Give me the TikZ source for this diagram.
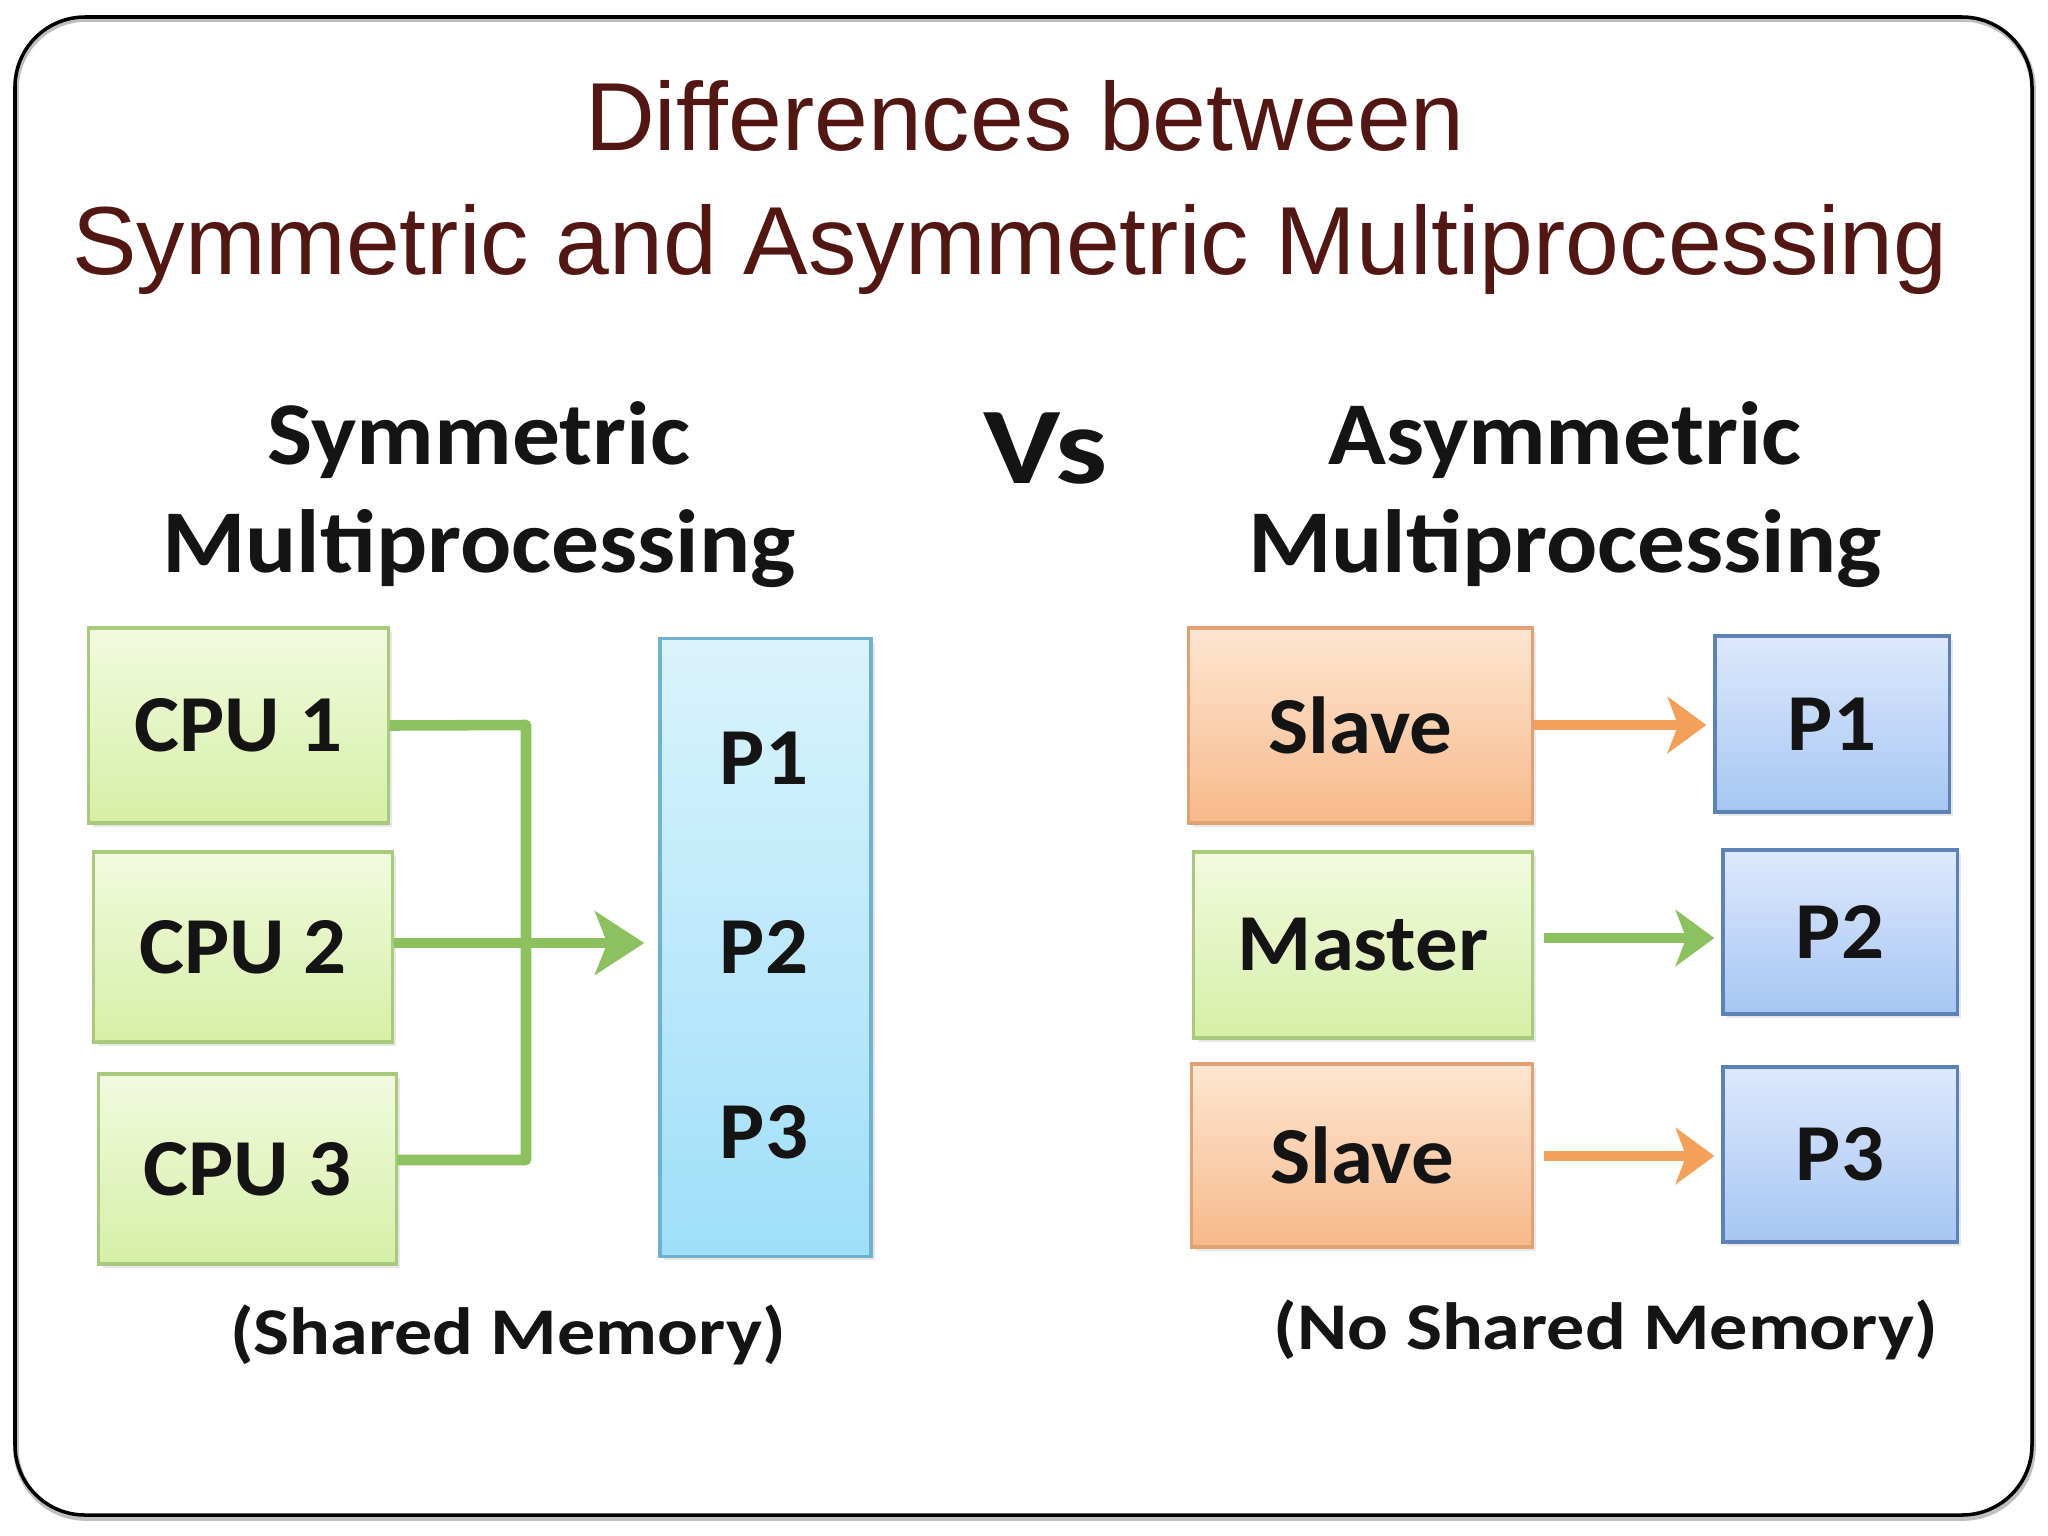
\documentclass[tikz,border=0pt]{standalone}
\usepackage{fontspec}
\setmainfont{Liberation Sans}
\newfontfamily\calib{Carlito}
\usetikzlibrary{arrows.meta,shadows}
\definecolor{titlecol}{HTML}{521713}
\definecolor{gtop}{HTML}{F2FADF}
\definecolor{gbot}{HTML}{D6EFA6}
\definecolor{gborder}{HTML}{A9C97C}
\definecolor{gline}{HTML}{8DC15F}
\definecolor{btop}{HTML}{DAF3FD}
\definecolor{bbot}{HTML}{9FDFF8}
\definecolor{bborder}{HTML}{6FB2D0}
\definecolor{otop}{HTML}{FDE6D2}
\definecolor{obot}{HTML}{F7B98A}
\definecolor{oborder}{HTML}{E0A274}
\definecolor{oline}{HTML}{F2A05A}
\definecolor{ptop}{HTML}{DDE9FC}
\definecolor{pbot}{HTML}{A6C6F3}
\definecolor{pborder}{HTML}{5C82B8}
\definecolor{txt}{HTML}{141414}
\newcommand{\hs}[2]{\scalebox{#1}[1]{#2}}
\begin{document}
\begin{tikzpicture}[x=0.01cm,y=-0.01cm,
  titletext/.style={anchor=base,inner sep=0pt,text=titlecol,font=\fontsize{27.5}{30}\selectfont},
  headtext/.style={anchor=base,inner sep=0pt,text=txt,font=\calib\bfseries\fontsize{25.5}{28}\selectfont},
  vstext/.style={anchor=base,inner sep=0pt,text=txt,font=\calib\bfseries\fontsize{31}{34}\selectfont},
  captext/.style={anchor=base,inner sep=0pt,text=txt,font=\calib\bfseries\fontsize{19}{22}\selectfont},
  boxtext/.style={text=txt,font=\calib\bfseries\fontsize{23}{26}\selectfont},
  shadowed/.style={drop shadow={shadow xshift=1.2pt,shadow yshift=-1.2pt,opacity=0.18}},
  greenbox/.style={boxtext,shadowed,draw=gborder,line width=0.9pt,top color=gtop,bottom color=gbot},
  orangebox/.style={boxtext,shadowed,draw=oborder,line width=0.9pt,top color=otop,bottom color=obot},
  pbox/.style={boxtext,shadowed,draw=pborder,line width=0.9pt,top color=ptop,bottom color=pbot},
  membox/.style={shadowed,draw=bborder,line width=0.9pt,top color=btop,bottom color=bbot},
  gconn/.style={draw=gline,line width=3pt},
  garrow/.style={gconn,-{Stealth[length=14pt,width=18pt,inset=3.5pt]}},
  oarrow/.style={draw=oline,line width=2.8pt,-{Stealth[length=11pt,width=16pt,inset=3pt]}}
]
\useasboundingbox (0,0) rectangle (2048,1536);
\fill[white] (0,0) rectangle (2048,1536);
% frame
\draw[black!25,line width=1.6pt,rounded corners=0.7cm] (16,19) rectangle (2033,1518);
\draw[black,line width=1pt,rounded corners=0.7cm] (15,17) rectangle (2032,1515);

% title
\node[titletext] (t1) at (1025,150) {Differences between};
\node[titletext] (t2) at (1010,274) {Symmetric and Asymmetric Multiprocessing};

% headings
\node[headtext] (hl1) at (479,464) {\hs{1.065}{Symmetric}};
\node[headtext] (hl2) at (479,572) {\hs{1.065}{Multiprocessing}};
\node[vstext] (vs) at (1046,483) {\hs{1.2}{Vs}};
\node[headtext] (hr1) at (1565,464) {\hs{1.065}{Asymmetric}};
\node[headtext] (hr2) at (1565,572) {\hs{1.065}{Multiprocessing}};

% left side
\node[greenbox,minimum width=2.99cm,minimum height=1.95cm] (C1) at (238.5,725.5) {\hs{1.05}{CPU 1}};
\node[greenbox,minimum width=2.98cm,minimum height=1.90cm] (C2) at (243,947) {\hs{1.05}{CPU 2}};
\node[greenbox,minimum width=2.97cm,minimum height=1.90cm] (C3) at (247.5,1169) {\hs{1.05}{CPU 3}};
\node[membox,minimum width=2.11cm,minimum height=6.17cm] (Mem) at (765.5,947.5) {};
\node[boxtext] (mp1) at (764,758) {\hs{1.05}{P1}};
\node[boxtext] (mp2) at (764,947) {\hs{1.05}{P2}};
\node[boxtext] (mp3) at (764,1132) {\hs{1.05}{P3}};

\coordinate (e1) at (526,725);
\coordinate (e3) at (526,1160);
\draw[gconn,line join=round] (C1.east) -- (e1) -- (e3) -- (C3.east |- e3);
\draw[garrow,shorten >=4pt] (C2.east |- 0,943) -- (Mem.west |- 0,943);

% right side
\node[orangebox,minimum width=3.43cm,minimum height=1.95cm] (S1) at (1360.5,725.5) {\hs{1.05}{Slave}};
\node[greenbox,minimum width=3.38cm,minimum height=1.86cm] (M) at (1363,945) {\hs{1.05}{Master}};
\node[orangebox,minimum width=3.40cm,minimum height=1.83cm] (S2) at (1362,1155.5) {\hs{1.05}{Slave}};
\node[pbox,minimum width=2.34cm,minimum height=1.76cm] (R1) at (1832,724) {\hs{1.05}{P1}};
\node[pbox,minimum width=2.34cm,minimum height=1.64cm] (R2) at (1840,932) {\hs{1.05}{P2}};
\node[pbox,minimum width=2.34cm,minimum height=1.75cm] (R3) at (1840,1154.5) {\hs{1.05}{P3}};

\coordinate (y1) at (0,725);
\coordinate (y2) at (0,938);
\coordinate (y3) at (0,1156);
\draw[oarrow,shorten >=2pt] (S1.east |- y1) -- (R1.west |- y1);
\draw[gconn,line width=2.8pt,-{Stealth[length=11pt,width=16pt,inset=3pt]},shorten <=3pt,shorten >=2pt] (M.east |- y2) -- (R2.west |- y2);
\draw[oarrow,shorten <=3pt,shorten >=2pt] (S2.east |- y3) -- (R3.west |- y3);

% captions
\node[captext] (cl) at (508,1354) {\hs{1.14}{(Shared Memory)}};
\node[captext] (cr) at (1606,1349) {\hs{1.14}{(No Shared Memory)}};
\end{tikzpicture}
\end{document}
